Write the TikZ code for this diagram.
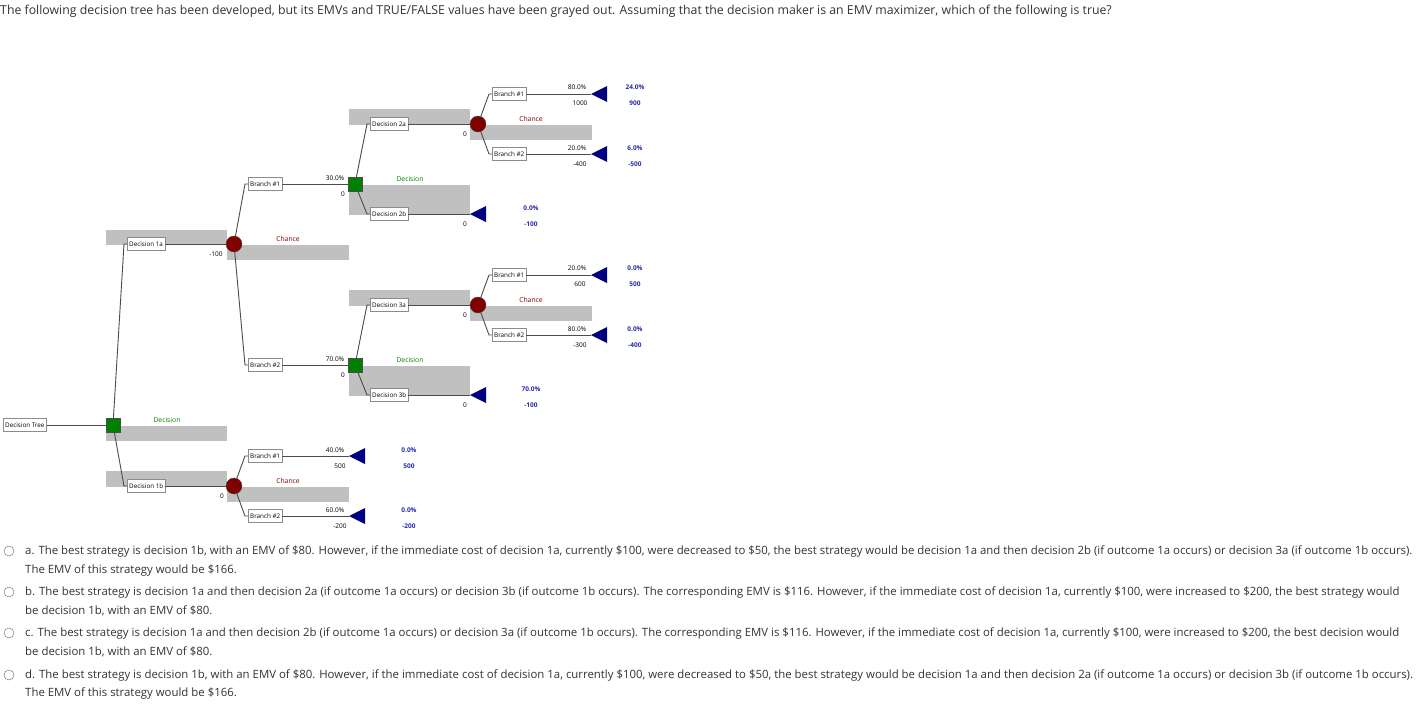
\documentclass[tikz,border=0pt]{standalone}
\usepackage{fontspec}
\setmainfont{Open Sans}
\definecolor{bargray}{RGB}{192,192,192}
\definecolor{dgreen}{RGB}{0,128,0}
\definecolor{dred}{RGB}{128,0,0}
\definecolor{dblue}{RGB}{0,0,128}
\definecolor{txtblue}{RGB}{40,40,170}
\definecolor{qtext}{RGB}{51,51,51}
\begin{document}
\begin{tikzpicture}[x=1pt,y=-1pt,
  bar/.style={fill=bargray,draw=none},
  lbl/.style={draw=black!45,fill=white,font=\fontsize{6.3}{7}\selectfont,inner xsep=2pt,inner ysep=0pt,minimum height=13pt,anchor=west},
  dsq/.style={fill=dgreen,draw=black!70,minimum size=14pt,inner sep=0pt},
  chc/.style={circle,fill=dred,draw=black!70,minimum size=16pt,inner sep=0pt},
  small/.style={font=\fontsize{6.5}{7}\selectfont,inner sep=0pt},
  blu/.style={font=\bfseries\fontsize{6.5}{7}\selectfont,inner sep=0pt,text=txtblue},
  gtx/.style={font=\fontsize{6.8}{7}\selectfont,inner sep=0pt,text=dgreen},
  rtx/.style={font=\fontsize{6.8}{7}\selectfont,inner sep=0pt,text=dred},
  ln/.style={draw=black!70,line width=0.9pt},
  q/.style={font=\fontsize{11.4}{12}\selectfont,text=qtext,anchor=west,inner sep=0pt},
  rad/.style={circle,draw=black!60,minimum size=10pt,inner sep=0pt}]
\useasboundingbox[fill=white] (0,0) rectangle (1426,718);
\newcommand{\tri}[3]{\fill[dblue] (#2,#3) -- (#2+16,#3-8) -- (#2+16,#3+8) -- cycle; \coordinate (#1) at (#2,#3);}
% gray bars
\fill[bar] (106,426) rectangle (227,441);
\fill[bar] (106,230) rectangle (227,245);
\fill[bar] (227,245) rectangle (349,260);
\fill[bar] (349,185) rectangle (470,215);
\fill[bar] (349,109) rectangle (470,125);
\fill[bar] (470,125) rectangle (592,140);
\fill[bar] (349,366) rectangle (470,396);
\fill[bar] (349,290) rectangle (470,306);
\fill[bar] (470,306) rectangle (592,321);
\fill[bar] (106,471) rectangle (227,487);
\fill[bar] (227,487) rectangle (349,502);
% root
\node[lbl] (root) at (3,425) {Decision Tree\hspace{14pt}};
\node[dsq] (d0) at (113,425) {};
\draw[ln] (root) -- (d0);
\node[gtx] (t0) at (167,420) {Decision};
% decision 1a
\node[lbl] (d1a) at (127,244) {Decision 1a};
\node[chc] (c1) at (234,244) {};
\draw[ln] (d0) -- (124,244) -- (d1a.west); \draw[ln] (d1a) -- (c1);
\node[small] (v1) at (216,254) {-100};
\node[rtx] (t1) at (288,239) {Chance};
% branch 1 of c1
\node[lbl] (b11) at (248,184) {Branch \#1};
\node[dsq] (d2) at (355,184) {};
\draw[ln] (c1) -- (245,184) -- (b11.west); \draw[ln] (b11) -- (d2);
\node[small] (p11) at (335,178) {30.0\%};
\node[small] (v11) at (343,194) {0};
\node[gtx] (t2) at (410,179) {Decision};
% decision 2a
\node[lbl] (d2a) at (370,124) {Decision 2a};
\node[chc] (c2) at (478,124) {};
\draw[ln] (d2) -- (367,124) -- (d2a.west); \draw[ln] (d2a) -- (c2);
\node[small] (v2a) at (465,134) {0};
\node[rtx] (t3) at (531,119) {Chance};
\node[lbl] (b21) at (492,94) {Branch \#1};
\tri{e1}{591}{94}
\draw[ln] (c2) -- (489,94) -- (b21.west); \draw[ln] (b21) -- (e1);
\node[small] at (577,87) {80.0\%}; \node[small] at (580,103) {1000};
\node[blu] at (635,87) {24.0\%}; \node[blu] at (635,103) {900};
\node[lbl] (b22) at (492,154) {Branch \#2};
\tri{e2}{591}{154}
\draw[ln] (c2) -- (489,154) -- (b22.west); \draw[ln] (b22) -- (e2);
\node[small] at (577,148) {20.0\%}; \node[small] at (580,164) {-400};
\node[blu] at (635,148) {6.0\%}; \node[blu] at (635,164) {-500};
% decision 2b
\node[lbl] (d2b) at (370,214) {Decision 2b};
\tri{e3}{470}{214}
\draw[ln] (d2) -- (367,214) -- (d2b.west); \draw[ln] (d2b) -- (e3);
\node[small] at (465,224) {0};
\node[blu] at (531,208) {0.0\%}; \node[blu] at (531,224) {-100};
% branch 2 of c1
\node[lbl] (b12) at (248,365) {Branch \#2};
\node[dsq] (d3) at (355,365) {};
\draw[ln] (c1) -- (245,365) -- (b12.west); \draw[ln] (b12) -- (d3);
\node[small] at (335,359) {70.0\%};
\node[small] at (343,375) {0};
\node[gtx] at (410,360) {Decision};
% decision 3a
\node[lbl] (d3a) at (370,305) {Decision 3a};
\node[chc] (c3) at (478,305) {};
\draw[ln] (d3) -- (367,305) -- (d3a.west); \draw[ln] (d3a) -- (c3);
\node[small] at (465,315) {0};
\node[rtx] at (531,300) {Chance};
\node[lbl] (b31) at (492,275) {Branch \#1};
\tri{e4}{591}{275}
\draw[ln] (c3) -- (489,275) -- (b31.west); \draw[ln] (b31) -- (e4);
\node[small] at (577,268) {20.0\%}; \node[small] at (580,284) {600};
\node[blu] at (635,268) {0.0\%}; \node[blu] at (635,284) {500};
\node[lbl] (b32) at (492,335) {Branch \#2};
\tri{e5}{591}{335}
\draw[ln] (c3) -- (489,335) -- (b32.west); \draw[ln] (b32) -- (e5);
\node[small] at (577,329) {80.0\%}; \node[small] at (580,345) {-300};
\node[blu] at (635,329) {0.0\%}; \node[blu] at (635,345) {-400};
% decision 3b
\node[lbl] (d3b) at (370,395) {Decision 3b};
\tri{e6}{470}{395}
\draw[ln] (d3) -- (367,395) -- (d3b.west); \draw[ln] (d3b) -- (e6);
\node[small] at (465,405) {0};
\node[blu] at (531,389) {70.0\%}; \node[blu] at (531,405) {-100};
% decision 1b
\node[lbl] (d1b) at (127,486) {Decision 1b};
\node[chc] (c4) at (234,486) {};
\draw[ln] (d0) -- (124,486) -- (d1b.west); \draw[ln] (d1b) -- (c4);
\node[small] at (222,496) {0};
\node[rtx] at (288,481) {Chance};
\node[lbl] (b41) at (248,456) {Branch \#1};
\tri{e7}{349}{456}
\draw[ln] (c4) -- (245,456) -- (b41.west); \draw[ln] (b41) -- (e7);
\node[small] at (335,450) {40.0\%}; \node[small] at (340,466) {500};
\node[blu] at (409,450) {0.0\%}; \node[blu] at (409,466) {500};
\node[lbl] (b42) at (248,516) {Branch \#2};
\tri{e8}{349}{516}
\draw[ln] (c4) -- (245,516) -- (b42.west); \draw[ln] (b42) -- (e8);
\node[small] at (335,510) {60.0\%}; \node[small] at (340,526) {-200};
\node[blu] at (409,510) {0.0\%}; \node[blu] at (409,526) {-200};
% question
\node[q,font=\fontsize{12.3}{13}\selectfont] (qh) at (0,11) {The following decision tree has been developed, but its EMVs and TRUE/FALSE values have been grayed out. Assuming that the decision maker is an EMV maximizer, which of the following is true?};
\node[rad] (ra) at (9,551) {}; \node[rad] (rb) at (9,592) {}; \node[rad] (rc) at (9,633) {}; \node[rad] (rd) at (9,675) {};
\node[q] at (25,551) {a. The best strategy is decision 1b, with an EMV of \$80. However, if the immediate cost of decision 1a, currently \$100, were decreased to \$50, the best strategy would be decision 1a and then decision 2b (if outcome 1a occurs) or decision 3a (if outcome 1b occurs).};
\node[q] at (25,570) {The EMV of this strategy would be \$166.};
\node[q] at (25,592) {b. The best strategy is decision 1a and then decision 2a (if outcome 1a occurs) or decision 3b (if outcome 1b occurs). The corresponding EMV is \$116. However, if the immediate cost of decision 1a, currently \$100, were increased to \$200, the best strategy would};
\node[q] at (25,611) {be decision 1b, with an EMV of \$80.};
\node[q] at (25,633) {c. The best strategy is decision 1a and then decision 2b (if outcome 1a occurs) or decision 3a (if outcome 1b occurs). The corresponding EMV is \$116. However, if the immediate cost of decision 1a, currently \$100, were increased to \$200, the best decision would};
\node[q] at (25,652) {be decision 1b, with an EMV of \$80.};
\node[q] at (25,675) {d. The best strategy is decision 1b, with an EMV of \$80. However, if the immediate cost of decision 1a, currently \$100, were decreased to \$50, the best strategy would be decision 1a and then decision 2a (if outcome 1a occurs) or decision 3b (if outcome 1b occurs).};
\node[q] at (25,693) {The EMV of this strategy would be \$166.};
\end{tikzpicture}
\end{document}
